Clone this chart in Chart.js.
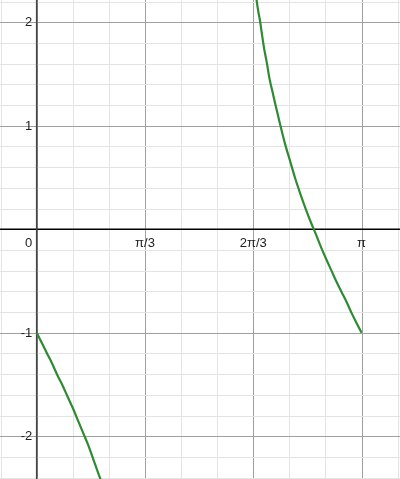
<!DOCTYPE html>
<html>
<head>
<meta charset="utf-8">
<script src="https://cdn.jsdelivr.net/npm/chart.js@4"></script>
<style>
  body { margin: 0; background: #fff; }
  canvas { display: block; }
</style>
</head>
<body>
<canvas id="graph" width="400" height="479"></canvas>
<script>
// curve, two branches either side of the asymptote
const leftX = [0, 0.05, 0.1, 0.15, 0.2, 0.25, 0.3, 0.35, 0.4, 0.45, 0.5, 0.55, 0.6, 0.63];
const leftY = [-1, -1.1, -1.2, -1.3, -1.41, -1.51, -1.62, -1.73, -1.85, -1.97, -2.09, -2.23, -2.37, -2.45];
const rightX = [2.12, 2.14, 2.16, 2.18, 2.2, 2.225, 2.25, 2.275, 2.3, 2.35, 2.4, 2.45, 2.5, 2.55, 2.6, 2.65,
  2.7, 2.75, 2.8, 2.85, 2.9, 2.95, 3.0, 3.05, 3.1, 3.1416];
const rightY = [2.26, 2.12, 2.01, 1.87, 1.74, 1.61, 1.46, 1.35, 1.24, 1.03, 0.83, 0.66, 0.49, 0.34, 0.2, 0.07,
  -0.05, -0.175, -0.29, -0.4, -0.51, -0.61, -0.71, -0.82, -0.92, -1];

const xTickValues = [Math.PI / 3, 2 * Math.PI / 3, Math.PI];
const xTickLabels = ["π/3", "2π/3", "π"];
const yTickValues = [2, 1, -1, -2];
const yTickLabels = ["2", "1", "-1", "-2"];

const toPoints = (xs, ys) => xs.map((x, i) => ({ x: x, y: ys[i] }));

const gridPlugin = {
  id: "grid",
  beforeDatasetsDraw(chart) {
    const c = chart.ctx, x = chart.scales.x, y = chart.scales.y;
    const a = chart.chartArea;
    c.save();
    c.fillStyle = "#fff";
    c.fillRect(0, 0, chart.width, chart.height);
    // minor then major lines
    for (let k = -3; k <= 12; k++) {
      const px = Math.round(x.getPixelForValue(k * Math.PI / 9)) + 0.5;
      c.strokeStyle = k % 3 === 0 ? "#a0a0a0" : "#e4e4e4";
      c.lineWidth = 1;
      c.beginPath(); c.moveTo(px, a.top); c.lineTo(px, a.bottom); c.stroke();
    }
    for (let k = -13; k <= 12; k++) {
      const py = Math.round(y.getPixelForValue(k * 0.2)) + 0.5;
      c.strokeStyle = k % 5 === 0 ? "#a0a0a0" : "#e4e4e4";
      c.lineWidth = 1;
      c.beginPath(); c.moveTo(a.left, py); c.lineTo(a.right, py); c.stroke();
    }
    // axes
    const x0 = x.getPixelForValue(0), y0 = y.getPixelForValue(0);
    c.strokeStyle = "#000";
    c.lineWidth = 1.6;
    c.beginPath(); c.moveTo(a.left, y0); c.lineTo(a.right, y0); c.stroke();
    c.strokeStyle = "#444";
    c.beginPath(); c.moveTo(x0, a.top); c.lineTo(x0, a.bottom); c.stroke();
    c.restore();
  },
  afterDatasetsDraw(chart) {
    const c = chart.ctx, x = chart.scales.x, y = chart.scales.y;
    const x0 = x.getPixelForValue(0), y0 = y.getPixelForValue(0);
    c.save();
    c.font = "13px 'Liberation Sans', Arial, sans-serif";
    c.fillStyle = "#222";
    c.textBaseline = "top";
    c.textAlign = "right";
    c.fillText("0", x0 - 4.5, y0 + 8);
    c.textAlign = "center";
    xTickValues.forEach((v, i) => c.fillText(xTickLabels[i], x.getPixelForValue(v), y0 + 8));
    c.textAlign = "right";
    c.textBaseline = "middle";
    yTickValues.forEach((v, i) => c.fillText(yTickLabels[i], x0 - 4.5, y.getPixelForValue(v) + 0.5));
    c.restore();
  }
};

const lineStyle = {
  showLine: true,
  borderColor: "#2f8a34",
  borderWidth: 2.2,
  pointRadius: 0,
  cubicInterpolationMode: "monotone",
  fill: false
};

new Chart(document.getElementById("graph").getContext("2d"), {
  type: "scatter",
  data: {
    datasets: [
      Object.assign({ data: toPoints(leftX, leftY) }, lineStyle),
      Object.assign({ data: toPoints(rightX, rightY) }, lineStyle)
    ]
  },
  options: {
    responsive: false,
    animation: false,
    layout: { padding: 0 },
    plugins: { legend: { display: false }, tooltip: { enabled: false } },
    scales: {
      x: { type: "linear", min: -0.355, max: 3.513, display: false },
      y: { type: "linear", min: -2.413, max: 2.215, display: false }
    }
  },
  plugins: [gridPlugin]
});
</script>
</body>
</html>
